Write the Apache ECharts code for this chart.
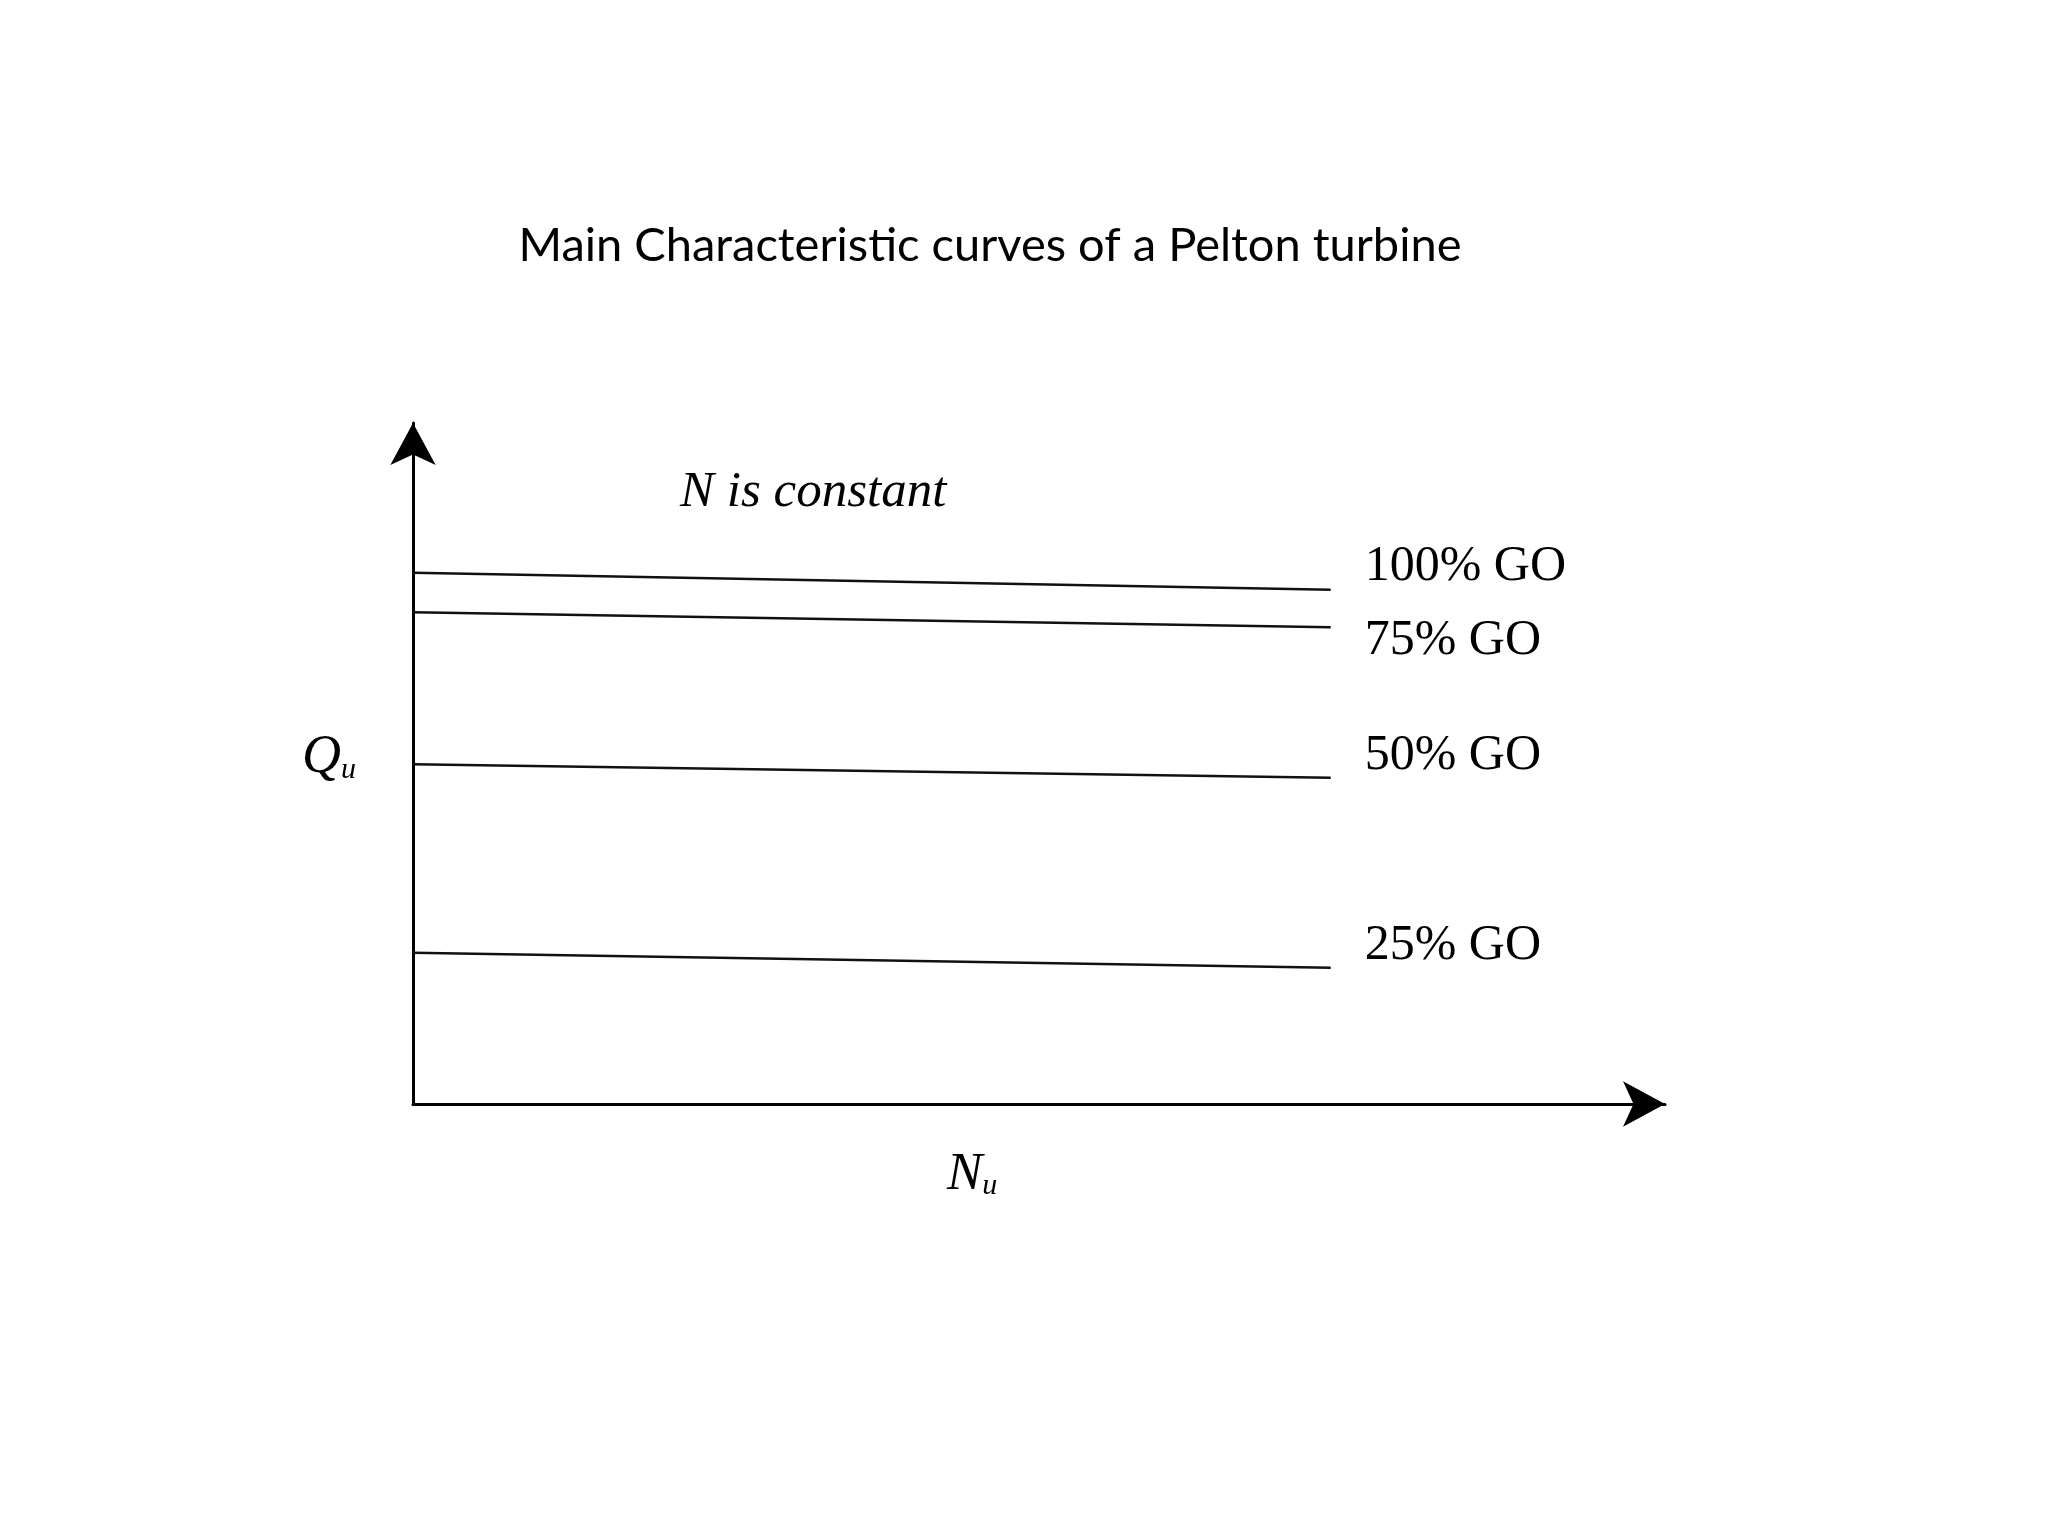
<!DOCTYPE html>
<html>
<head>
<meta charset="utf-8">
<script src="https://cdn.jsdelivr.net/npm/echarts@6/dist/echarts.min.js"></script>
<style>html,body{margin:0;padding:0;background:#fff}#c{width:2048px;height:1536px}</style>
</head>
<body>
<div id="c"></div>
<script>
// ---- data ----
const chartTitle = 'Main Characteristic curves of a Pelton turbine';
const curveNames = ['100% GO', '75% GO', '50% GO', '25% GO'];
const nuRange = [0, 73.3];                // N_u at start and end of each curve
const quStart = [78.0, 72.2, 49.9, 22.2]; // Q_u at N_u = start
const quEnd   = [75.5, 70.0, 47.9, 20.0]; // Q_u at N_u = end
const axisMax = [100, 100];               // x max, y max

// ---- styling (not data) ----
const labelDy = [-23, 14, -22, -22];
const serif = '"Liberation Serif", "DejaVu Serif", serif';

const chart = echarts.init(document.getElementById('c'), null, {renderer: 'canvas'});

const series = curveNames.map((name, i) => ({
  name: name,
  type: 'line',
  data: [[nuRange[0], quStart[i]], [nuRange[1], quEnd[i]]],
  symbol: 'none',
  silent: true,
  lineStyle: {color: '#111', width: 2.5},
  endLabel: {
    show: true,
    formatter: '{a}',
    distance: 0,
    offset: [34, labelDy[i]],
    color: '#000',
    fontFamily: serif,
    fontSize: 50
  }
}));

const axisCommon = {
  type: 'value',
  min: 0,
  axisTick: {show: false},
  axisLabel: {show: false},
  splitLine: {show: false},
  axisLine: {
    show: true,
    symbol: ['none', 'arrow'],
    symbolSize: [34, 42],
    lineStyle: {color: '#000', width: 3}
  }
};

chart.setOption({
  backgroundColor: '#fff',
  animation: false,
  title: {
    text: chartTitle,
    left: 990,
    textAlign: 'center',
    top: 222,
    padding: 0,
    textStyle: {fontFamily: 'Lato, "Noto Sans", sans-serif', fontWeight: 'normal', fontSize: 47, color: '#000'}
  },
  grid: {left: 413, right: 383, top: 423, bottom: 432, containLabel: false},
  xAxis: Object.assign({}, axisCommon, {max: axisMax[0]}),
  yAxis: Object.assign({}, axisCommon, {max: axisMax[1]}),
  series: series,
  graphic: [
    {
      type: 'text', x: 680, y: 493, silent: true,
      style: {text: 'N is constant', font: 'italic 51px ' + serif, fill: '#000', verticalAlign: 'middle', align: 'left'}
    },
    {
      type: 'text', x: 302, y: 758, silent: true,
      style: {
        text: '{a|Q}{b|u}', fill: '#000', verticalAlign: 'middle', align: 'left',
        rich: {
          a: {fontFamily: serif, fontStyle: 'italic', fontSize: 54, color: '#000'},
          b: {fontFamily: serif, fontStyle: 'italic', fontSize: 30, color: '#000', verticalAlign: 'bottom'}
        }
      }
    },
    {
      type: 'text', x: 947, y: 1175, silent: true,
      style: {
        text: '{a|N}{b|u}', fill: '#000', verticalAlign: 'middle', align: 'left',
        rich: {
          a: {fontFamily: serif, fontStyle: 'italic', fontSize: 53, color: '#000'},
          b: {fontFamily: serif, fontStyle: 'italic', fontSize: 30, color: '#000', verticalAlign: 'bottom'}
        }
      }
    }
  ]
});
</script>
</body>
</html>
